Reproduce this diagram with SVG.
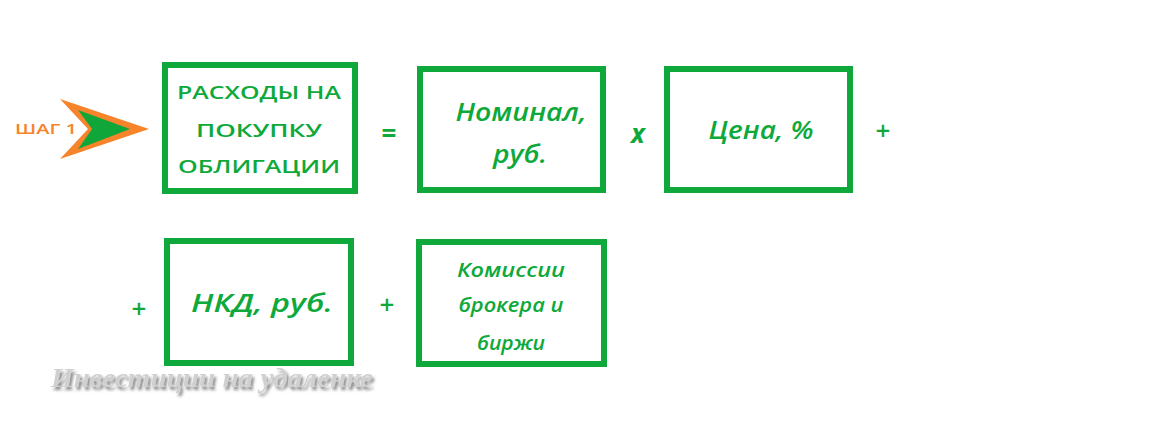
<svg xmlns="http://www.w3.org/2000/svg" width="1158" height="424" viewBox="0 0 1158 424">
<defs>
<style>
.box{fill:#fff;stroke:#0ea93a;stroke-width:6}
.t{fill:#0ea93a;font-family:"Open Sans","Liberation Sans",sans-serif;font-weight:600;text-anchor:middle}
.cap{font-size:18px}
.big{font-size:25px;font-style:italic}
.mid{font-size:20px;font-style:italic}
.op{fill:#0ea93a;font-family:"Open Sans","Liberation Sans",sans-serif;font-weight:700;text-anchor:middle}
.plus{fill:#0ea93a;font-family:"Open Sans","Liberation Sans",sans-serif;font-weight:600;text-anchor:middle;font-size:26px}
</style>
<filter id="sh" x="-5%" y="-30%" width="110%" height="160%">
<feDropShadow dx="2" dy="3" stdDeviation="1.5" flood-color="#555" flood-opacity="0.7"/>
</filter>
</defs>
<rect width="1158" height="424" fill="#fff"/>
<g id="step">
<polygon points="60,99 149,129 60,159 88,129" fill="#f7842a"/>
<polygon points="78,110 130,129 78,149 92,129" fill="#10a63a"/>
<text x="46" y="134" font-family="Open Sans, Liberation Sans, sans-serif" font-size="14" font-weight="600" fill="#f7842a" text-anchor="middle" textLength="62" lengthAdjust="spacingAndGlyphs">ШАГ 1</text>
</g>
<g id="node-expenses">
<rect class="box" x="165" y="65" width="190" height="126"/>
<text class="t cap" x="259" y="99" textLength="164" lengthAdjust="spacingAndGlyphs">РАСХОДЫ НА</text>
<text class="t cap" x="259" y="137" textLength="126" lengthAdjust="spacingAndGlyphs">ПОКУПКУ</text>
<text class="t cap" x="259" y="173" textLength="162" lengthAdjust="spacingAndGlyphs">ОБЛИГАЦИИ</text>
</g>
<g id="node-nominal">
<rect class="box" x="420" y="69" width="183" height="121"/>
<text class="t big" x="521" y="121" textLength="131" lengthAdjust="spacingAndGlyphs">Номинал,</text>
<text class="t big" x="520" y="163" textLength="54" lengthAdjust="spacingAndGlyphs">руб.</text>
</g>
<g id="node-price">
<rect class="box" x="667" y="69" width="183" height="121"/>
<text class="t big" x="761" y="139" textLength="105" lengthAdjust="spacingAndGlyphs">Цена, %</text>
</g>
<g id="node-nkd">
<rect class="box" x="167" y="241" width="184" height="122"/>
<text class="t big" x="262" y="312" textLength="142" lengthAdjust="spacingAndGlyphs">НКД, руб.</text>
</g>
<g id="node-fees">
<rect class="box" x="419" y="242" width="185" height="122"/>
<text class="t mid" x="511" y="277" textLength="108" lengthAdjust="spacingAndGlyphs">Комиссии</text>
<text class="t mid" x="511" y="312" textLength="105" lengthAdjust="spacingAndGlyphs">брокера и</text>
<text class="t mid" x="511" y="350" textLength="68" lengthAdjust="spacingAndGlyphs">биржи</text>
</g>
<g id="connectors">
<text class="op" x="389" y="143" font-size="26">=</text>
<text class="op" x="638" y="143" font-size="26" font-style="italic">x</text>
<text class="plus" x="883" y="140">+</text>
<text class="plus" x="139" y="318">+</text>
<text class="plus" x="387" y="314">+</text>
</g>
<g id="watermark">
<text x="212" y="387" font-family="Liberation Serif, serif" font-size="27" font-weight="700" font-style="italic" fill="#d0d0d0" text-anchor="middle" textLength="322" lengthAdjust="spacingAndGlyphs" filter="url(#sh)">Инвестиции на удаленке</text>
</g>
</svg>
